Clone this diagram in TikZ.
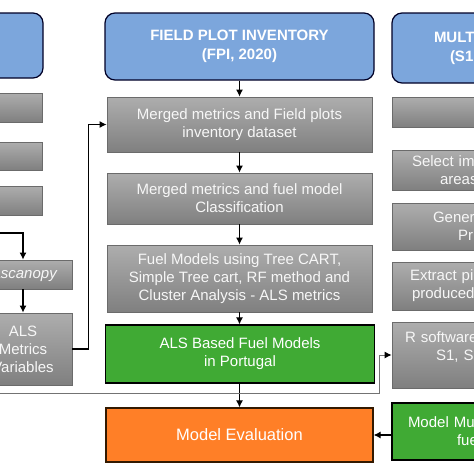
\documentclass[tikz,border=0pt]{standalone}
\usepackage{fontspec}
\setmainfont{Liberation Sans}
\usetikzlibrary{arrows.meta}
\definecolor{bleu}{RGB}{124,166,220}
\definecolor{vertbox}{RGB}{64,170,52}
\definecolor{orangebox}{RGB}{255,127,39}
\begin{document}
\begin{tikzpicture}[x=1pt,y=-1pt]
	% Cadre
	\useasboundingbox (0,0) rectangle (474,474);
	\clip (0,0) rectangle (474,474);
	% Styles
	\tikzstyle{fleche}=[-{Latex[length=7pt,width=7pt]},line width=1.1pt,black]
	\tikzstyle{lien}=[-{Latex[length=7pt,width=7pt,black]},line width=1pt,black!55]
	\tikzstyle{boite}=[rectangle,inner sep=0pt,align=center,text=white,font=\fontsize{15}{18}\selectfont]
	\tikzstyle{entete}=[boite,draw=black!85!blue,line width=1.2pt,fill=bleu,rounded corners=10pt,font=\fontsize{15}{19}\selectfont\bfseries]
	\tikzstyle{gris}=[boite,draw=black!58,line width=0.8pt,top color=black!32,bottom color=black!50,text=black!3]
	\tikzstyle{vert}=[boite,draw=black,line width=1.2pt,fill=vertbox]
	\tikzstyle{evaluation}=[boite,draw=black!80!orange,line width=1.2pt,fill=orangebox,font=\fontsize{16.5}{19}\selectfont]
	\tikzstyle{coupe}=[align=left,text width=265]
	% Colonnes
	\def\ColonneA{-90.5}
	\def\ColonneAbis{23}
	\def\ColonneB{239.5}
	\def\ColonneC{524.5}
	% Colonne de gauche (ALS)
	\node[entete,minimum width=269,minimum height=65] (als0) at ({\ColonneA-1},45.5) {};
	\node[gris,minimum width=265,minimum height=29] (als1) at ({\ColonneA},107.5) {};
	\node[gris,minimum width=265,minimum height=28] (als2) at ({\ColonneA},156) {};
	\node[gris,minimum width=265,minimum height=29] (als3) at ({\ColonneA},200.5) {};
	\node[gris,minimum width=98,minimum height=29] (scan) at ({\ColonneAbis},274.5) {\itshape lascanopy};
	\node[gris,minimum width=98,minimum height=72] (als) at ({\ColonneAbis},349) {ALS\\Metrics\\Variables};
	\coordinate (depart) at (-20,233);
	\coordinate (retour) at (-20,393);
	% Colonne du milieu (FPI)
	\node[entete,minimum width=269,minimum height=67] (fpi) at ({\ColonneB},46.5) {FIELD PLOT INVENTORY\\(FPI, 2020)};
	\node[gris,minimum width=265,minimum height=55] (m1) at ({\ColonneB},124.5) {Merged metrics and Field plots\\inventory dataset};
	\node[gris,minimum width=265,minimum height=51] (m2) at ({\ColonneB},198.5) {Merged metrics and fuel model\\Classification};
	\node[gris,minimum width=265,minimum height=67] (m3) at ({\ColonneB},278.5) {Fuel Models using Tree CART,\\Simple Tree cart, RF method and\\Cluster Analysis - ALS metrics};
	\node[vert,minimum width=269,minimum height=58] (modeles) at ({\ColonneB+0.5},354) {ALS Based Fuel Models\\in Portugal};
	\node[evaluation,minimum width=267,minimum height=54] (eval) at ({\ColonneB},435) {Model Evaluation};
	% Colonne de droite (S1, S2)
	\node[entete,coupe,text width=269,minimum height=70] (multi) at ({\ColonneC+2},48) {\hspace*{42pt}MULT\\\hspace*{58pt}(S1};
	\node[gris,minimum width=265,minimum height=30] (r1) at ({\ColonneC},112) {};
	\node[gris,coupe,minimum height=40] (r2) at ({\ColonneC},170) {\hspace*{20pt}Select im\\\hspace*{48pt}areas};
	\node[gris,coupe,minimum height=47] (r3) at ({\ColonneC},226.5) {\hspace*{41pt}Gener\\\hspace*{66pt}Pr};
	\node[gris,coupe,minimum height=48] (r4) at ({\ColonneC},286) {\hspace*{18pt}Extract pi\\\hspace*{20pt}produced};
	\node[gris,coupe,minimum height=66] (r5) at ({\ColonneC},355) {\hspace*{13pt}R software\\\hspace*{44pt}S1, S\\~};
	\node[vert,coupe,text width=269,minimum height=57] (mm) at ({\ColonneC+2},431.5) {\hspace*{16pt}Model Mu\\\hspace*{65pt}fue};
	% Arcs
	\draw[fleche] (depart) -| (scan.north);
	\draw[fleche] (scan.south) -- (als.north);
	\draw[fleche] (als.east) -- ++(16,0) |- (m1.west);
	\draw[fleche] (fpi.south) -- (m1.north);
	\draw[fleche] (m1.south) -- (m2.north);
	\draw[fleche] (m2.south) -- (m3.north);
	\draw[fleche] (m3.south) -- (modeles.north -| m3.south);
	\draw[fleche] (modeles.south -| eval.north) -- (eval.north);
	\draw[lien] (retour) -- (379,393) |- (r5.west);
	\draw[fleche] (eval.east -| mm.west) -- (eval.east);
\end{tikzpicture}
\end{document}
